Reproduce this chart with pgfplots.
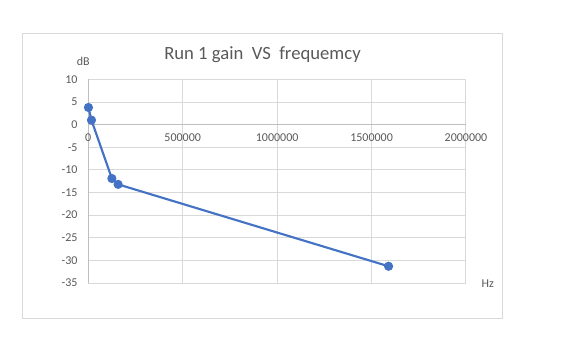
\documentclass[border=0pt]{standalone}
\usepackage{fontspec}
\setmainfont{Carlito}
\usepackage{pgfplots}
\pgfplotsset{compat=1.18}
\definecolor{ln}{HTML}{4472C4}
\definecolor{tk}{HTML}{595959}
\definecolor{gr}{HTML}{D9D9D9}
\definecolor{ax}{HTML}{BFBFBF}
\begin{document}
\begin{tikzpicture}[x=0.75pt,y=0.75pt]
\path[use as bounding box] (0,0) rectangle (562,-337);
\draw[gr, line width=0.75pt] (22,-33) rectangle (502,-318);
\begin{axis}[
  at={(66.2pt,-212.25pt)}, anchor=south west,
  scale only axis, width=283.3pt, height=152.7pt,
  xmin=0, xmax=2000000, ymin=-35, ymax=10,
  axis x line=middle, axis y line=left,
  hide obscured x ticks=false, hide obscured y ticks=false,
  axis line style={-, draw=ax, line width=0.75pt},
  xtick={0,500000,1000000,1500000,2000000},
  xticklabels={0,500000,1000000,1500000,2000000},
  ytick={-35,-30,...,10},
  major tick length=0pt,
  grid=major,
  major grid style={gr, line width=0.75pt},
  scaled x ticks=false,
  /pgf/number format/assume math mode=true,
  tick label style={font=\fontsize{9pt}{10pt}\selectfont, text=tk},
  xticklabel style={anchor=north, yshift=-3.5pt},
  yticklabel style={anchor=east, xshift=-4.5pt},
  clip=false,
]
\addplot[ln, line width=1.6pt, mark=*, mark size=2.6pt, mark options={fill=ln, draw=ln}]
  coordinates {(1000,3.8) (17000,1.0) (125000,-11.9) (158000,-13.2) (1590000,-31.3)};
\end{axis}
\node[text=tk, font=\fontsize{14pt}{16pt}\selectfont] at (262.5,-55) {Run 1 gain\ \ VS\ \ frequemcy};
\node[text=tk, font=\fontsize{9pt}{10pt}\selectfont] at (83.3,-61.7) {dB};
\node[text=tk, font=\fontsize{9pt}{10pt}\selectfont] at (487.7,-283.3) {Hz};
\end{tikzpicture}
\end{document}
